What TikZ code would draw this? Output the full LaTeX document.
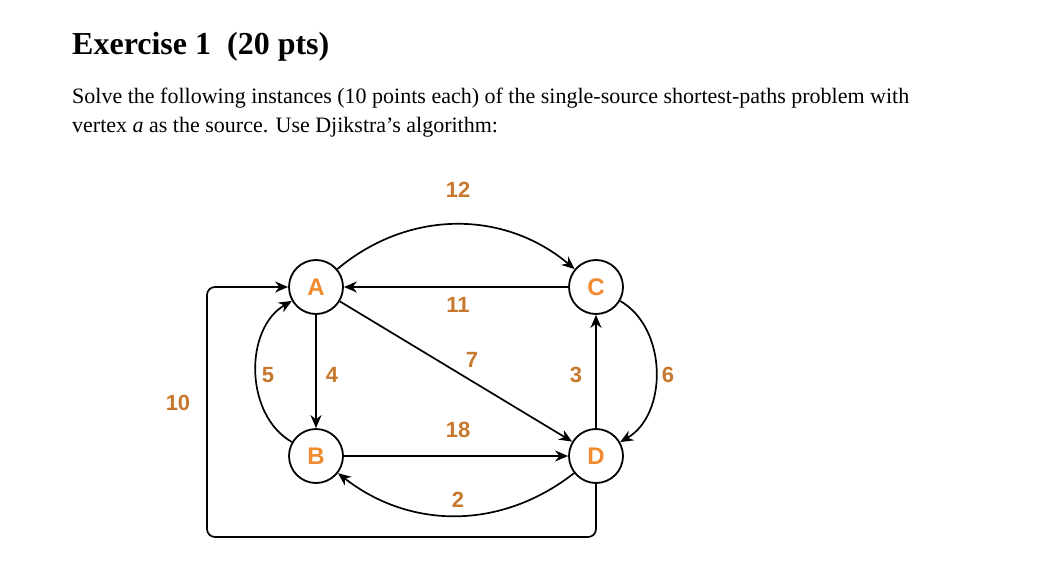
\documentclass[tikz,border=0pt]{standalone}
\usepackage{fontspec}
\setmainfont{Liberation Serif}
\newfontfamily\lsans{Liberation Sans}
\usetikzlibrary{arrows.meta}
\definecolor{lbl}{HTML}{C8782C}
\definecolor{nodeor}{HTML}{F08A30}
\begin{document}
\begin{tikzpicture}[x=1pt,y=-1pt,
  vtx/.style={circle,draw,line width=1.8pt,minimum size=54pt,inner sep=0pt,font=\lsans\bfseries\fontsize{24}{24}\selectfont,text=nodeor},
  wt/.style={font=\lsans\bfseries\fontsize{22}{22}\selectfont,text=lbl},
  edge/.style={line width=1.7pt,-{Stealth[length=13pt,width=11pt]}},
  txt/.style={anchor=base west,inner sep=0pt,font=\fontsize{22}{26}\selectfont}]
\useasboundingbox (0,0) rectangle (1038,572);
\node[txt,font=\bfseries\fontsize{32}{36}\selectfont] (title) at (72,55) {Exercise 1\ \ (20 pts)};
\node[txt] (l1) at (72,104) {Solve the following instances (10 points each) of the single-source shortest-paths problem with};
\node[txt] (l2) at (72,133) {vertex \textit{a} as the source. Use Djikstra’s algorithm:};
\node[vtx] (A) at (316,287) {A};
\node[vtx] (C) at (596,287) {C};
\node[vtx] (B) at (316,456) {B};
\node[vtx] (D) at (596,456) {D};
\coordinate (k1) at (596,537);
\coordinate (k2) at (207,537);
\coordinate (k3) at (207,287);
\draw[edge] (A) to[out=40,in=140] (C);
\draw[edge] (C) -- (A);
\draw[edge] (A) -- (D);
\draw[edge] (A) -- (B);
\draw[edge] (B) to[out=150,in=210] (A);
\draw[edge] (B) -- (D);
\draw[edge] (D) to[out=218,in=322] (B);
\draw[edge] (D) -- (C);
\draw[edge] (C) to[out=-30,in=30] (D);
\draw[edge,rounded corners=8pt] (D.south) -- (k1) -- (k2) -- (k3) -- (A);
\node[wt] (w12) at (458,190) {12};
\node[wt] (w11) at (458,305) {11};
\node[wt] (w7) at (472,360) {7};
\node[wt] (w5) at (268,375) {5};
\node[wt] (w4) at (332,375) {4};
\node[wt] (w3) at (576,375) {3};
\node[wt] (w6) at (668,375) {6};
\node[wt] (w10) at (178,403) {10};
\node[wt] (w18) at (458,430) {18};
\node[wt] (w2) at (458,500) {2};
\end{tikzpicture}
\end{document}
